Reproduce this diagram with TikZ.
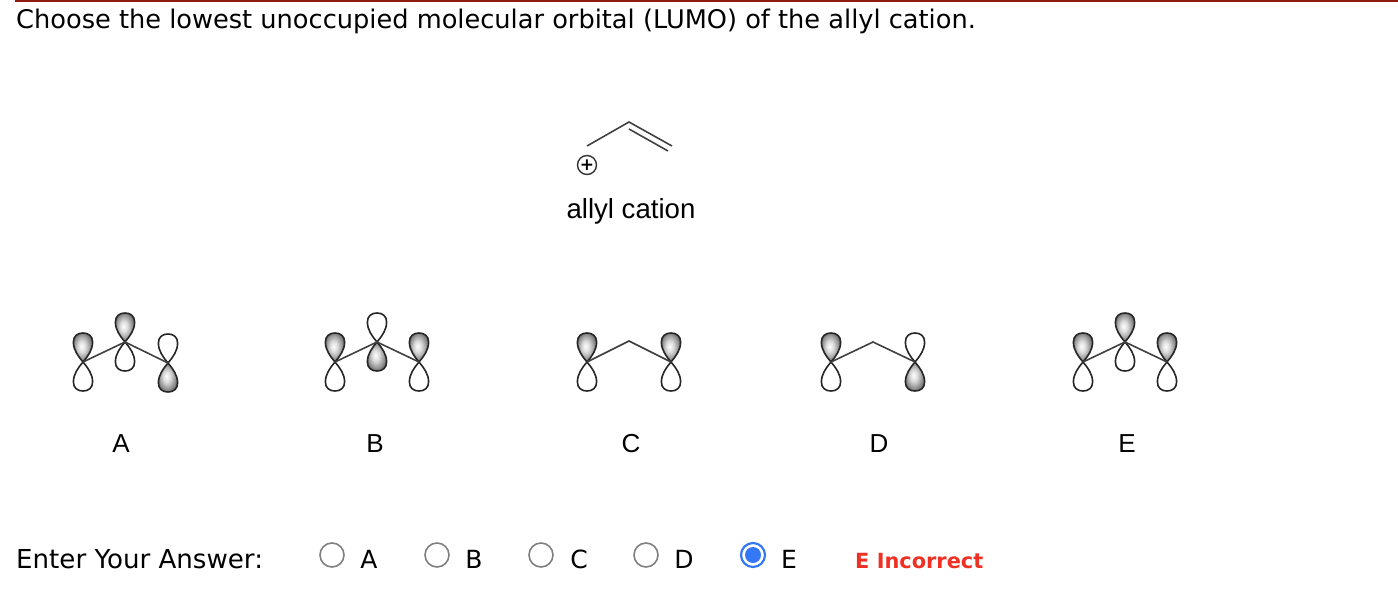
\documentclass[tikz,border=0pt]{standalone}
\usepackage{fontspec}
\setmainfont{DejaVu Sans}
\newfontfamily\labelfont{Liberation Sans}
\definecolor{headred}{HTML}{8E1A10}
\definecolor{wrongred}{HTML}{EE3124}
\definecolor{radioblue}{HTML}{3478F6}
\pgfdeclareradialshading{lobeshade}{\pgfpoint{-4bp}{2bp}}{color(0bp)=(white); color(10bp)=(black!15); color(26bp)=(black!55); color(40bp)=(black!90); color(50bp)=(black)}
\tikzset{
	openlobe/.style={draw=black!85, line width=1.6pt, fill=white},
	darklobe/.style={draw=black!85, line width=1.6pt, shading=lobeshade},
	bondline/.style={draw=black!75, line width=1.6pt},
	radiobtn/.style={circle, draw=black!50, line width=1.6pt, minimum size=24pt, inner sep=0pt},
	radiotext/.style={font=\fontsize{25}{28}\selectfont, anchor=base},
	itemlabel/.style={font=\labelfont\fontsize{26}{28}\selectfont, anchor=base}
}
% one p orbital: center, style of upper lobe, style of lower lobe
\newcommand{\lobepath}{(0,0) .. controls (-5,-6) and (-9.6,-12) .. (-9.6,-20) .. controls (-9.6,-26) and (-5.5,-29) .. (0,-29) .. controls (5.5,-29) and (9.6,-26) .. (9.6,-20) .. controls (9.6,-12) and (5,-6) .. (0,0) -- cycle}
\newcommand{\orbital}[3]{
	\begin{scope}[shift={(#1)}]
		\path[#2] \lobepath;
		\path[#3, yscale=-1] \lobepath;
	\end{scope}
}
\begin{document}
\begin{tikzpicture}[x=1pt, y=-1pt]
	\useasboundingbox (0,0) rectangle (1398,602);
	\fill[headred] (15,0) rectangle (1398,2);
	\node[anchor=base west, inner sep=0pt, font=\fontsize{25.65}{30}\selectfont] (question) at (16,29) {Choose the lowest unoccupied molecular orbital (LUMO) of the allyl cation.};

	% allyl cation
	\coordinate (c1) at (587,146);
	\coordinate (c2) at (629,122);
	\coordinate (c3) at (672,146);
	\coordinate (c2b) at (629,129);
	\coordinate (c3b) at (668,151);
	\draw[bondline] (c1) -- (c2) -- (c3);
	\draw[bondline] (c2b) -- (c3b);
	\node[circle, draw=black!80, line width=1.4pt, minimum size=19pt, inner sep=0pt, font=\bfseries\fontsize{17}{17}\selectfont] (plus) at (587,165) {+};
	\node[itemlabel, font=\labelfont\fontsize{27.6}{30}\selectfont] (allyl) at (631,218) {allyl cation};

	% orbitals A
	\orbital{83,362}{darklobe}{openlobe}
	\orbital{125,342}{darklobe}{openlobe}
	\orbital{168,363}{openlobe}{darklobe}
	\coordinate (a1) at (83,362);
	\coordinate (a2) at (125,342);
	\coordinate (a3) at (168,363);
	\draw[bondline] (a1) -- (a2) -- (a3);
	\node[itemlabel] (labela) at (121,452) {A};

	% orbitals B
	\orbital{335,362}{darklobe}{openlobe}
	\orbital{377,342}{openlobe}{darklobe}
	\orbital{419,362}{darklobe}{openlobe}
	\coordinate (b1) at (335,362);
	\coordinate (b2) at (377,342);
	\coordinate (b3) at (419,362);
	\draw[bondline] (b1) -- (b2) -- (b3);
	\node[itemlabel] (labelb) at (375,452) {B};

	% orbitals C
	\orbital{587,362}{darklobe}{openlobe}
	\orbital{671,362}{darklobe}{openlobe}
	\coordinate (c4) at (587,362);
	\coordinate (c5) at (629,341);
	\coordinate (c6) at (671,362);
	\draw[bondline] (c4) -- (c5) -- (c6);
	\node[itemlabel] (labelc) at (631,452) {C};

	% orbitals D
	\orbital{831,362}{darklobe}{openlobe}
	\orbital{915,362}{openlobe}{darklobe}
	\coordinate (d1) at (831,362);
	\coordinate (d2) at (873,342);
	\coordinate (d3) at (915,362);
	\draw[bondline] (d1) -- (d2) -- (d3);
	\node[itemlabel] (labeld) at (879,452) {D};

	% orbitals E
	\orbital{1083,362}{darklobe}{openlobe}
	\orbital{1125,342}{darklobe}{openlobe}
	\orbital{1167,362}{darklobe}{openlobe}
	\coordinate (e1) at (1083,362);
	\coordinate (e2) at (1125,342);
	\coordinate (e3) at (1167,362);
	\draw[bondline] (e1) -- (e2) -- (e3);
	\node[itemlabel] (labele) at (1127,452) {E};

	% answer row
	\node[anchor=base west, inner sep=0pt, font=\fontsize{26.1}{30}\selectfont] (enter) at (16,568) {Enter Your Answer:};
	\foreach \name/\radx/\letx in {A/332/369, B/437/474, C/541/579, D/646/684}{
		\node[radiobtn] (radio\name) at (\radx,555) {};
		\node[radiotext] (text\name) at (\letx,568) {\name};
	}
	\node[radiobtn, draw=radioblue, line width=2.2pt] (radioE) at (753,555) {};
	\fill[radioblue] (radioE.center) circle (8);
	\node[radiotext] (textE) at (789,568) {E};
	\node[anchor=base west, inner sep=0pt, text=wrongred, font=\bfseries\fontsize{20.9}{26}\selectfont] (verdict) at (855,568) {E Incorrect};
\end{tikzpicture}
\end{document}
